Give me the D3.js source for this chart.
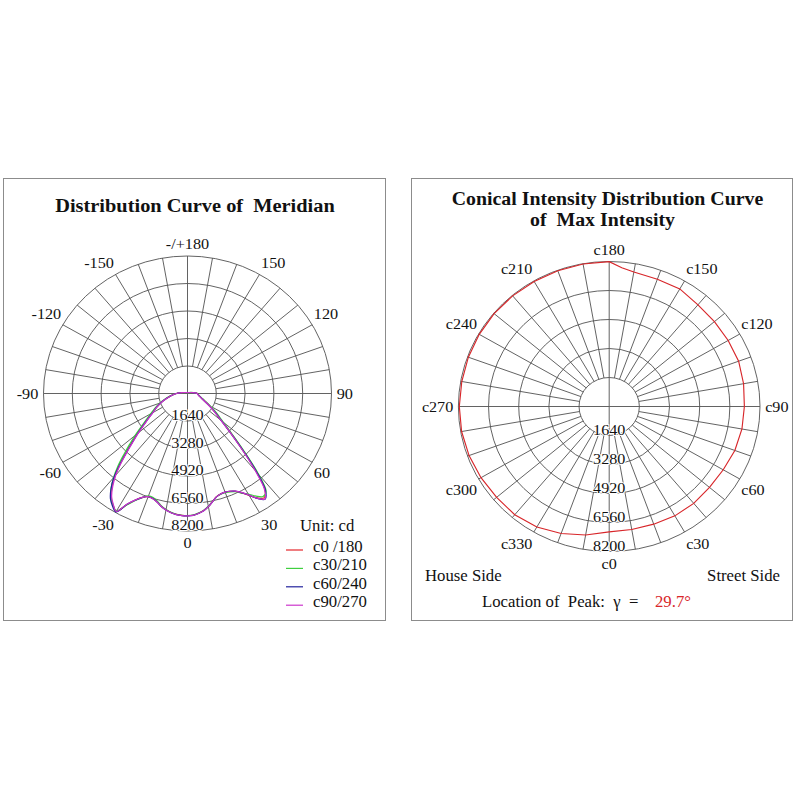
<!DOCTYPE html>
<html>
<head>
<meta charset="utf-8">
<script src="https://cdn.jsdelivr.net/npm/d3@7"></script>
<style>
  body { margin: 0; background: #fff; }
  text { font-family: "Liberation Serif", "Times New Roman", serif; fill: #111; white-space: pre; }
</style>
</head>
<body>
<svg id="chart" width="800" height="800"></svg>
<script>
// gamma angles (deg) of the meridian curves, 0 = straight down
const gammaAngles = [-180, -170, -160, -150, -140, -130, -120, -110, -100,
  -95, -90, -85, -80, -75, -70, -65, -60, -55, -50,
  -47.5, -45, -42.5, -40, -37.5, -35, -32.5, -30, -27.5, -25, -22.5, -20, -17.5, -15, -12.5, -10, -7.5, -5, -2.5,
  0, 2.5, 5, 7.5, 10, 12.5, 15, 17.5, 20, 22.5, 25, 27.5, 30, 32.5, 35, 37.5, 40, 42.5, 45, 47.5,
  50, 55, 60, 65, 70, 75, 80, 85, 90, 95,
  100, 110, 120, 130, 140, 150, 160, 170, 180];

// intensity (cd) per C-plane pair
const c0_180 = [60, 62, 65, 70, 78, 92, 120, 175, 330,
  450, 630, 830, 1040, 1300, 1620, 1950, 2320, 2880, 3720,
  4230, 4880, 5650, 6420, 7080, 7580, 7890, 8110, 7460, 7010, 6710, 6540, 6560, 6690, 6890, 7040, 7160, 7240, 7280,
  7290, 7270, 7170, 7040, 6840, 6590, 6370, 6280, 6270, 6320, 6440, 6680, 7020, 7380, 7600, 7260, 6150, 4850, 3830,
  3080, 2560, 1900, 1440, 1090, 880, 740, 660, 600, 560, 455,
  335, 178, 121, 93, 78, 70, 65, 62, 60];
const c30_210 = [60, 62, 65, 70, 78, 92, 120, 175, 330,
  460, 640, 850, 1070, 1340, 1680, 2030, 2430, 3000, 3900,
  4450, 5100, 5850, 6550, 7150, 7600, 7900, 8080, 7500, 7040, 6720, 6500, 6500, 6640, 6860, 7020, 7150, 7230, 7270,
  7280, 7260, 7160, 7030, 6830, 6590, 6380, 6300, 6300, 6350, 6460, 6700, 6920, 7260, 7500, 7350, 6300, 5000, 3950,
  3200, 2650, 2000, 1530, 1150, 920, 760, 670, 610, 565, 460,
  340, 180, 122, 93, 78, 70, 65, 62, 60];
const c60_240 = [60, 62, 65, 70, 78, 92, 120, 175, 330,
  450, 620, 820, 1030, 1290, 1610, 1940, 2300, 2850, 3690,
  4200, 4850, 5650, 6500, 7150, 7650, 7950, 8150, 7450, 7010, 6700, 6540, 6570, 6700, 6900, 7050, 7170, 7250, 7290,
  7300, 7280, 7180, 7050, 6850, 6600, 6380, 6280, 6260, 6310, 6430, 6660, 7000, 7420, 7700, 7300, 6150, 4850, 3800,
  3050, 2520, 1870, 1410, 1070, 865, 735, 652, 592, 552, 450,
  330, 175, 120, 92, 78, 70, 65, 62, 60];
const c90_270 = [60, 62, 65, 70, 78, 92, 120, 175, 330,
  450, 620, 820, 1030, 1280, 1600, 1930, 2280, 2820, 3650,
  4150, 4800, 5570, 6350, 7000, 7530, 7860, 8120, 7430, 7000, 6700, 6550, 6580, 6700, 6900, 7050, 7170, 7250, 7290,
  7300, 7280, 7180, 7050, 6850, 6600, 6380, 6280, 6260, 6310, 6420, 6650, 6990, 7400, 7680, 7200, 6000, 4750, 3750,
  3020, 2500, 1850, 1400, 1060, 860, 730, 650, 590, 550, 450,
  330, 175, 120, 92, 78, 70, 65, 62, 60];

const seriesNames = ['c0 /180', 'c30/210', 'c60/240', 'c90/270'];
const seriesValues = [c0_180, c30_210, c60_240, c90_270];
const seriesColors = ['#e5262b', '#3fcf3f', '#23239c', '#cc35cc'];

// max intensity cone (gamma = 29.7) over C angles
const cAngles = [0, 10, 20, 30, 40, 50, 60, 70, 80, 90, 100, 110, 120, 130, 140, 150, 160, 170, 175,
  180, 190, 200, 210, 220, 230, 240, 250, 260, 270, 280, 290, 300, 310, 320, 330, 340, 350, 360];
const maxIntensity = [7090, 7060, 7080, 7140, 7150, 7120, 7160, 7270, 7330, 7350, 7420, 7490, 7470, 7470, 7510, 7680, 7660, 7720, 7880,
  8190, 8180, 8170, 8160, 8170, 8170, 8160, 8150, 8140, 8150, 8150, 8110, 8050, 7990, 7990, 7870, 7640, 7380, 7090];
const peakGamma = '29.7°';

const ringTicks = [1640, 3280, 4920, 6560, 8200];
const meridianLabels = ['0', '30', '60', '90', '120', '150', '-/+180', '-150', '-120', '-90', '-60', '-30'];
const conicalLabels = ['c0', 'c30', 'c60', 'c90', 'c120', 'c150', 'c180', 'c210', 'c240', 'c270', 'c300', 'c330'];

const svg = d3.select('#chart');
const rad = (d) => d * Math.PI / 180;
const SX = 1.045; // picture is a bit wider than tall

// helper: text slightly stretched like the source image
function label(parent, x, y, str, size, anchor, opts = {}) {
  return parent.append('text')
    .attr('transform', `translate(${x},${y}) scale(${SX},1)`)
    .attr('text-anchor', anchor)
    .attr('font-size', size)
    .attr('font-weight', opts.bold ? 'bold' : null)
    .style('fill', opts.color || null)
    .text(str);
}

// panel frames
svg.append('rect').attr('x', 3.5).attr('y', 178.5).attr('width', 382).attr('height', 442)
  .attr('fill', 'none').attr('stroke', '#8c8c8c');
svg.append('rect').attr('x', 411.5).attr('y', 178.5).attr('width', 381).attr('height', 442)
  .attr('fill', 'none').attr('stroke', '#8c8c8c');

function drawPolar(cx, cy, ry, sx, labels) {
  const g = svg.append('g').attr('transform', `translate(${cx},${cy}) scale(${sx},1)`);
  const r = d3.scaleLinear().domain([0, 8200]).range([0, ry]);

  g.selectAll('circle.ring').data(ringTicks).join('circle')
    .attr('class', 'ring')
    .attr('r', (d) => r(d))
    .attr('fill', 'none').attr('stroke', '#555').attr('stroke-width', 0.9);

  // spokes every 10 deg, main axes go through the centre
  const spokes = d3.range(0, 360, 10);
  g.selectAll('line.spoke').data(spokes).join('line')
    .attr('class', 'spoke')
    .attr('x1', (a) => Math.sin(rad(a)) * (a % 90 === 0 ? 0 : r(ringTicks[0])))
    .attr('y1', (a) => Math.cos(rad(a)) * (a % 90 === 0 ? 0 : r(ringTicks[0])))
    .attr('x2', (a) => Math.sin(rad(a)) * r(8200))
    .attr('y2', (a) => Math.cos(rad(a)) * r(8200))
    .attr('stroke', '#555').attr('stroke-width', 0.9);

  // angle labels every 30 deg
  labels.forEach((t, i) => {
    const a = rad(i * 30);
    const s = Math.sin(a), c = Math.cos(a);
    const px = s * r(8200), py = c * r(8200);
    const anchor = Math.abs(s) < 0.01 ? 'middle' : (s > 0 ? 'start' : 'end');
    const dx = Math.abs(s) < 0.01 ? 0 : Math.sign(s) * (Math.abs(c) < 0.01 ? 5 : 1.5);
    const off = 4 + 3 * Math.abs(c);
    let y;
    if (c > 0.01) y = py + off + 10.5;
    else if (c < -0.01) y = py - off;
    else y = py + 5;
    g.append('text')
      .attr('x', px + dx).attr('y', y)
      .attr('text-anchor', anchor)
      .attr('font-size', 15.5)
      .text(t);
  });

  return { g, r };
}

function ringLabels(g, r) {
  g.selectAll('text.ringlab').data(ringTicks).join('text')
    .attr('class', 'ringlab')
    .attr('x', 0).attr('y', (d) => r(d) - 0.5)
    .attr('text-anchor', 'middle')
    .attr('font-size', 15.5)
    .attr('stroke', '#fff').attr('stroke-width', 2).attr('paint-order', 'stroke')
    .text((d) => d);
}

const radial = (r) => d3.lineRadial()
  .angle((d) => Math.PI - rad(d.a))
  .radius((d) => r(d.v));

// ---- left: meridian distribution
label(svg, 195, 212, 'Distribution Curve of  Meridian', 19.5, 'middle', { bold: true });
const left = drawPolar(187.5, 393.5, 137.5, 144 / 137.5, meridianLabels);
seriesValues.forEach((vals, k) => {
  const pts = gammaAngles.map((a, i) => ({ a, v: vals[i] }));
  left.g.append('path')
    .datum(pts)
    .attr('fill', 'none')
    .attr('stroke', seriesColors[k])
    .attr('stroke-width', 1.2)
    .attr('d', radial(left.r).curve(d3.curveCatmullRom.alpha(0.5)));
});
ringLabels(left.g, left.r);

// legend
label(svg, 300, 531, 'Unit: cd', 16, 'start');
seriesNames.forEach((n, k) => {
  const y = 550 + k * 18.4;
  svg.append('line').attr('x1', 286).attr('x2', 303).attr('y1', y).attr('y2', y)
    .attr('stroke', seriesColors[k]).attr('stroke-width', 1.2);
  label(svg, 313, y + 2, n, 16, 'start');
});

// ---- right: conical max intensity
label(svg, 607.5, 204.5, 'Conical Intensity Distribution Curve', 19, 'middle', { bold: true });
label(svg, 602.5, 225.5, 'of  Max Intensity', 19, 'middle', { bold: true });
const right = drawPolar(609.2, 406.5, 145, 150.8 / 145, conicalLabels);
right.g.append('path')
  .datum(cAngles.map((a, i) => ({ a, v: maxIntensity[i] })))
  .attr('fill', 'none')
  .attr('stroke', '#d8262a')
  .attr('stroke-width', 1.1)
  .attr('d', radial(right.r));
ringLabels(right.g, right.r);

label(svg, 425, 581, 'House Side', 16, 'start');
label(svg, 780, 581, 'Street Side', 16, 'end');
label(svg, 482, 607, 'Location of  Peak:  γ  =', 16, 'start');
label(svg, 655, 607, peakGamma, 16, 'start', { color: '#d8262a' });
</script>
</body>
</html>
